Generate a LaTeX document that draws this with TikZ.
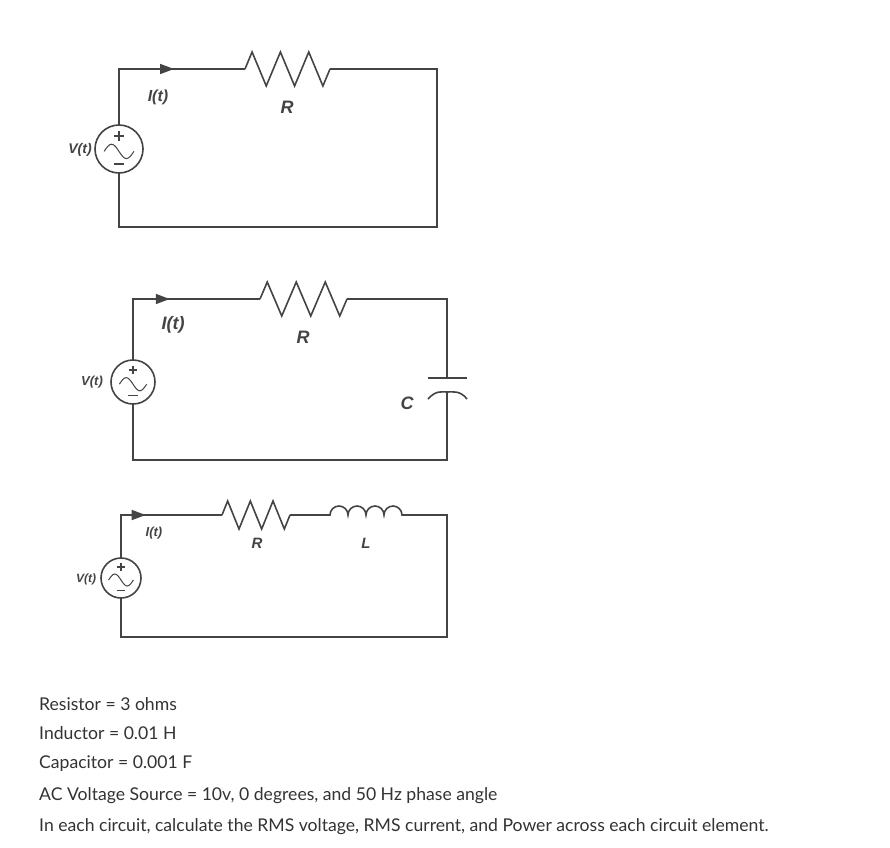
\documentclass[tikz,border=0pt]{standalone}
\usepackage{fontspec}
\setmainfont{Lato}
\newfontfamily\lab{Liberation Sans}
\usetikzlibrary{decorations.markings,arrows.meta,calc}
\definecolor{wire}{HTML}{444444}
\definecolor{txt}{HTML}{333333}
\newcommand\myres[4]{% xa xb y amp
 \draw[wirestyle] (#1,#3) -- ({#1+(#2-#1)/12},{#3-#4}) -- ({#1+3*(#2-#1)/12},{#3+#4}) -- ({#1+5*(#2-#1)/12},{#3-#4}) -- ({#1+7*(#2-#1)/12},{#3+#4}) -- ({#1+9*(#2-#1)/12},{#3-#4}) -- ({#1+11*(#2-#1)/12},{#3+#4}) -- (#2,#3);}
\newcommand\mysrc[2]{% name radius
 \draw[wirestyle] (#1) circle[radius=#2];
 \draw[wirestyle,line width=1.4pt] ($(#1)+(-0.2*#2,-0.55*#2)$) -- ++(0.4*#2,0) ($(#1)+(0,-0.75*#2)$) -- ++(0,0.4*#2)
   ($(#1)+(-0.22*#2,0.62*#2)$) -- ++(0.44*#2,0);
 \draw[wirestyle,line width=1pt] ($(#1)+(-0.62*#2,0.1*#2)$) sin ++(0.31*#2,-0.3*#2) cos ++(0.31*#2,0.3*#2) sin ++(0.31*#2,0.3*#2) cos ++(0.31*#2,-0.3*#2);}
\tikzset{wirestyle/.style={draw=wire,line width=1.6pt,line join=miter},
 lbl/.style={font=\lab\bfseries\itshape\fontsize{#1}{#1}\selectfont,text=wire,inner sep=0},
 lbl/.default=16,
 arr/.style={postaction={decorate},decoration={markings,mark=at position #1 with {\arrow{Triangle[length=14pt,width=10pt]}}}},
 line/.style={font=\fontsize{17.6}{17.6}\selectfont,text=txt,anchor=west,inner sep=0}}
\begin{document}
\begin{tikzpicture}[x=1pt,y=-1pt]
\useasboundingbox[fill=white] (0,0) rectangle (890,847);
% circuit 1
\coordinate (s1) at (119,149);
\coordinate (a1) at (119,69); \coordinate (ra1) at (245,69); \coordinate (rb1) at (330,69);
\coordinate (b1) at (437,69); \coordinate (c1) at (437,227); \coordinate (d1) at (119,227);
\draw[wirestyle,arr=0.61] ($(s1)+(0,-24)$) -- (a1) -- (ra1);
\myres{245}{330}{69}{17}
\draw[wirestyle] (rb1) -- (b1) -- (c1) -- (d1) -- ($(s1)+(0,24)$);
\mysrc{s1}{24}
\node[lbl] (i1) at (158,97) {I(t)};
\node[lbl=18] (r1) at (287,107) {R};
\node[lbl=14] (v1) at (80,150) {V(t)};
% circuit 2
\coordinate (s2) at (133,382);
\coordinate (a2) at (133,299); \coordinate (ra2) at (260,299); \coordinate (rb2) at (347,299);
\coordinate (b2) at (447,299); \coordinate (cp) at (447,378); \coordinate (cn) at (447,392); \coordinate (c2) at (447,460); \coordinate (d2) at (133,460);
\draw[wirestyle,arr=0.52] ($(s2)+(0,-22)$) -- (a2) -- (ra2);
\myres{260}{347}{299}{17}
\draw[wirestyle] (rb2) -- (b2) -- (cp);
\draw[wirestyle] (428,378) -- (467,378);
\draw[wirestyle] (428,399) .. controls (436,390) and (442,392) .. (447,392) .. controls (452,392) and (460,390) .. (467,399);
\draw[wirestyle] (cn) -- (c2) -- (d2) -- ($(s2)+(0,22)$);
\mysrc{s2}{22}
\node[lbl=18] (i2) at (173,325) {I(t)};
\node[lbl=18] (r2) at (303,337) {R};
\node[lbl=18] (cl) at (407,403) {C};
\node[lbl=13] (v2) at (92,382) {V(t)};
% circuit 3
\coordinate (s3) at (121,578);
\coordinate (a3) at (121,515); \coordinate (ra3) at (222,515); \coordinate (rb3) at (290,515);
\coordinate (la) at (330,515); \coordinate (lb) at (402,515);
\coordinate (b3) at (447,515); \coordinate (c3) at (447,637); \coordinate (d3) at (121,637);
\draw[wirestyle,arr=0.47] ($(s3)+(0,-20)$) -- (a3) -- (ra3);
\myres{222}{290}{515}{14}
\draw[wirestyle] (rb3) -- (la) arc[start angle=180,end angle=360,radius=9] arc[start angle=180,end angle=360,radius=9] arc[start angle=180,end angle=360,radius=9] arc[start angle=180,end angle=360,radius=9] -- (b3) -- (c3) -- (d3) -- ($(s3)+(0,20)$);
\mysrc{s3}{20}
\node[lbl=13] (i3) at (154,533) {I(t)};
\node[lbl=15] (r3) at (257,543) {R};
\node[lbl=15] (l3) at (366,543) {L};
\node[lbl=12] (v3) at (86,579) {V(t)};
% text
\node[line] (t1) at (39,704) {Resistor = 3 ohms};
\node[line] (t2) at (39,733) {Inductor = 0.01 H};
\node[line] (t3) at (39,764) {Capacitor = 0.001 F};
\node[line] (t4) at (39,796) {AC Voltage Source = 10v, 0 degrees, and 50 Hz phase angle};
\node[line] (t5) at (39,827) {In each circuit, calculate the RMS voltage, RMS current, and Power across each circuit element.};
\end{tikzpicture}
\end{document}
